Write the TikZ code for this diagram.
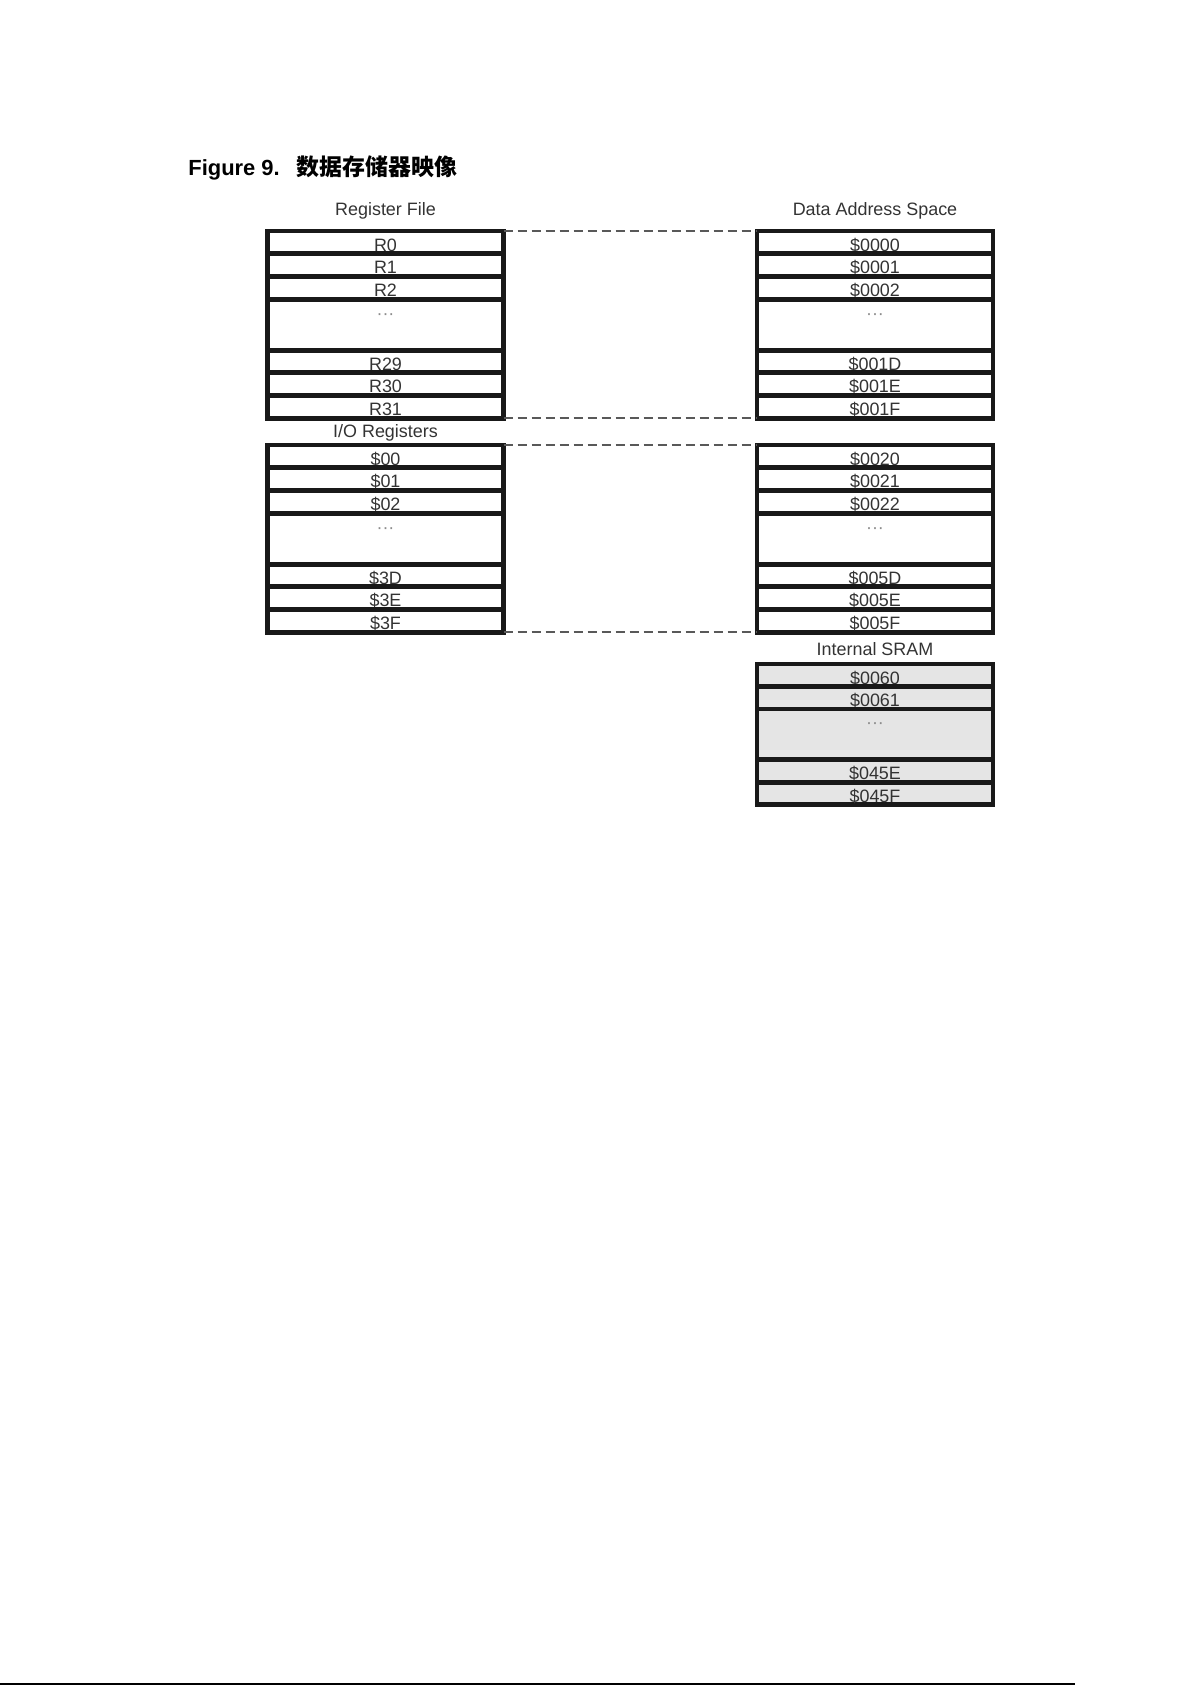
\documentclass[tikz,border=0pt]{standalone}
\usepackage{fontspec}
\setmainfont{Liberation Sans}
\newfontfamily\cjk{Noto Sans CJK SC}
\usetikzlibrary{positioning}
\tikzset{
  cell/.style={draw=black!90,line width=2.4bp,rectangle,inner sep=0pt,outer sep=0pt,
    minimum width=118bp,text height=10bp,text depth=1.35bp,
    font=\fontsize{9}{11}\selectfont,text=black!80},
  gapped/.style={text depth=15.5bp,text=black!45},
  sram/.style={cell,fill=black!10},
  head/.style={anchor=base,font=\fontsize{9}{11}\selectfont,text=black!80},
  link/.style={draw=black!65,line width=1bp,dash pattern=on 4.5bp off 2.5bp},
}
\begin{document}
\begin{tikzpicture}[x=0.5bp,y=-0.5bp]
\useasboundingbox (0,0) rectangle (1192,1685);
%%
\node (title) at (188,175) [anchor=base west,inner sep=0pt]
  {\fontsize{11}{13}\selectfont\bfseries Figure 9.\hspace{8.5bp}{\cjk\fontsize{11.5}{13}\selectfont 数据存储器映像}};
\node (hreg) at (385.5,215) [head] {Register File};
\node (hdata) at (875,215) [head] {Data Address Space};
\node (hio) at (385.5,437) [head] {I/O Registers};
\node (hsram) at (875,655) [head] {Internal SRAM};
%% register file
\node (reg0) at (385.5,242.35) [cell] {R0};
  \node (reg1) at (385.5,265.05) [cell] {R1};
  \node (reg2) at (385.5,287.75) [cell] {R2};
  \node (regdots) at (385.5,324.6) [cell,gapped] {···};
  \node (reg29) at (385.5,361.45) [cell] {R29};
  \node (reg30) at (385.5,384.15) [cell] {R30};
  \node (reg31) at (385.5,406.85) [cell] {R31};
%% i/o registers
\node (io00) at (385.5,456.35) [cell] {\$00};
  \node (io01) at (385.5,479.05) [cell] {\$01};
  \node (io02) at (385.5,501.75) [cell] {\$02};
  \node (iodots) at (385.5,538.6) [cell,gapped] {···};
  \node (io3D) at (385.5,575.45) [cell] {\$3D};
  \node (io3E) at (385.5,598.15) [cell] {\$3E};
  \node (io3F) at (385.5,620.85) [cell] {\$3F};
%% data address space
\node (ad0000) at (875,242.35) [cell] {\$0000};
  \node (ad0001) at (875,265.05) [cell] {\$0001};
  \node (ad0002) at (875,287.75) [cell] {\$0002};
  \node (addotsa) at (875,324.6) [cell,gapped] {···};
  \node (ad001D) at (875,361.45) [cell] {\$001D};
  \node (ad001E) at (875,384.15) [cell] {\$001E};
  \node (ad001F) at (875,406.85) [cell] {\$001F};
\node (ad0020) at (875,456.35) [cell] {\$0020};
  \node (ad0021) at (875,479.05) [cell] {\$0021};
  \node (ad0022) at (875,501.75) [cell] {\$0022};
  \node (addotsb) at (875,538.6) [cell,gapped] {···};
  \node (ad005D) at (875,575.45) [cell] {\$005D};
  \node (ad005E) at (875,598.15) [cell] {\$005E};
  \node (ad005F) at (875,620.85) [cell] {\$005F};
%% internal sram
\node (sr0060) at (875,675.35) [sram] {\$0060};
  \node (sr0061) at (875,698.05) [sram] {\$0061};
  \node (srdots) at (875,734.4) [sram,gapped] {···};
  \node (sr045E) at (875,770.75) [sram] {\$045E};
  \node (sr045F) at (875,793.45) [sram] {\$045F};
%% mapping
\draw [link] (reg0.north east) -- (ad0000.north west);
  \draw [link] (reg31.south east) -- (ad001F.south west);
  \draw [link] (io00.north east) -- (ad0020.north west);
  \draw [link] (io3F.south east) -- (ad005F.south west);
%% page rule
\draw [line width=1bp] (0,1684) -- (1075,1684);
%
\end{tikzpicture}
\end{document}
